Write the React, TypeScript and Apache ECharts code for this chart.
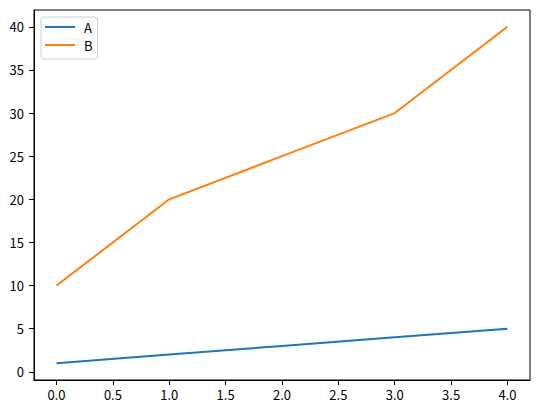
import React, { useEffect, useRef } from "react";
import * as echarts from "echarts";

const xValues = [0, 1, 2, 3, 4];
const seriesA = [1, 2, 3, 4, 5];
const seriesB = [10, 20, 25, 30, 40];
const xTicks = [0, 0.5, 1, 1.5, 2, 2.5, 3, 3.5, 4];
const yTicks = [0, 5, 10, 15, 20, 25, 30, 35, 40];

const FONT = "'Noto Sans CJK SC', 'DejaVu Sans', sans-serif";

export default function App() {
  const ref = useRef<HTMLDivElement>(null);
  useEffect(() => {
    if (!ref.current) return;
    const chart = echarts.init(ref.current, null, { renderer: "svg" });
    chart.setOption({
      animation: false,
      textStyle: { fontFamily: FONT, color: "#000" },
      grid: {
        left: 34,
        right: 9,
        top: 10,
        bottom: 31,
        show: true,
        borderColor: "#000",
        borderWidth: 1,
        backgroundColor: "transparent",
      },
      legend: {
        orient: "vertical",
        left: 41,
        top: 17,
        padding: [3, 5, 7, 4],
        itemGap: 4,
        itemWidth: 30,
        itemHeight: 2,
        icon: "rect",
        borderColor: "#d0d0d0",
        borderWidth: 1,
        borderRadius: 3,
        backgroundColor: "rgba(255,255,255,0.8)",
        textStyle: {
          fontFamily: FONT,
          fontSize: 13,
          lineHeight: 14,
          color: "#000",
          padding: [0, 0, 0, 4],
        },
        data: ["A", "B"],
      },
      xAxis: {
        type: "value",
        min: -0.2,
        max: 4.2,
        splitLine: { show: false },
        axisLine: { show: true, onZero: false, lineStyle: { color: "#000", width: 1 } },
        axisTick: {
          show: true,
          length: 5,
          customValues: xTicks,
          lineStyle: { color: "#000" },
        },
        axisLabel: {
          customValues: xTicks,
          margin: 8,
          fontSize: 13,
          color: "#000",
          fontFamily: FONT,
          formatter: (v: number) => v.toFixed(1),
        },
      },
      yAxis: {
        type: "value",
        min: -0.95,
        max: 41.95,
        splitLine: { show: false },
        axisLine: { show: true, onZero: false, lineStyle: { color: "#000", width: 1 } },
        axisTick: {
          show: true,
          length: 5,
          customValues: yTicks,
          lineStyle: { color: "#000" },
        },
        axisLabel: {
          customValues: yTicks,
          margin: 10,
          fontSize: 13,
          color: "#000",
          fontFamily: FONT,
          formatter: (v: number) => String(v),
        },
      },
      series: [
        {
          name: "A",
          type: "line",
          data: xValues.map((x, i) => [x, seriesA[i]]),
          symbol: "none",
          showSymbol: false,
          lineStyle: { color: "#1f77b4", width: 2 },
          itemStyle: { color: "#1f77b4" },
        },
        {
          name: "B",
          type: "line",
          data: xValues.map((x, i) => [x, seriesB[i]]),
          symbol: "none",
          showSymbol: false,
          lineStyle: { color: "#ff7f0e", width: 2 },
          itemStyle: { color: "#ff7f0e" },
        },
      ],
    });
    return () => chart.dispose();
  }, []);
  return <div ref={ref} style={{ width: 539, height: 411, position: "absolute", left: 0, top: 0 }} />;
}
